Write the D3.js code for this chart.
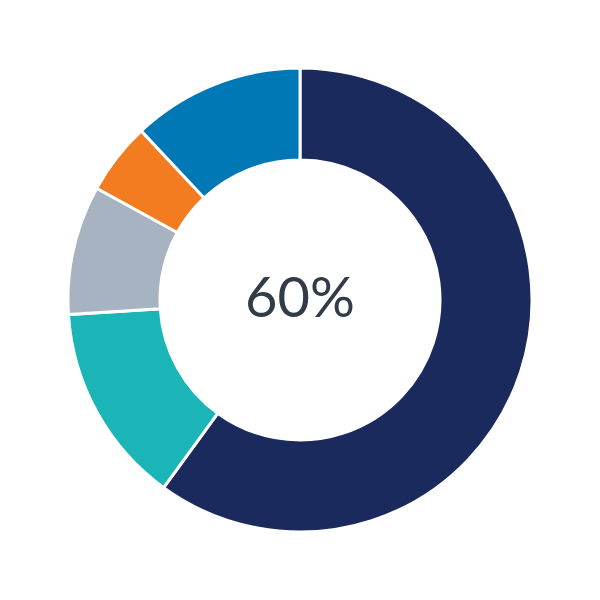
<!DOCTYPE html>
<html>
<head>
<meta charset="utf-8">
<script src="https://cdn.jsdelivr.net/npm/d3@7"></script>
<style>
  html, body { margin: 0; padding: 0; background: #fff; }
</style>
</head>
<body>
<div id="chart"></div>
<script>
'use strict';

var categories = ['A', 'B', 'C', 'D', 'E'];
var values = [60, 14, 9, 5, 12];
var colors = ['#1b2a5c', '#1bb5b7', '#a8b3c1', '#f47c20', '#0078b5'];
var centerLabel = '60%';

var width = 600,
    height = 600,
    outerRadius = 232,
    innerRadius = 140;

var svg = d3.select('#chart').append('svg')
  .attr('width', width)
  .attr('height', height);

var chart = svg.append('g')
  .attr('transform', 'translate(' + 300 + ',' + 300 + ')');

var pie = d3.pie()
  .sort(null)
  .value(function (d) { return d; });

var arc = d3.arc()
  .innerRadius(innerRadius)
  .outerRadius(outerRadius);

var color = d3.scaleOrdinal()
  .domain(categories)
  .range(colors);

chart.selectAll('path')
  .data(pie(values))
  .enter().append('path')
  .attr('d', arc)
  .attr('fill', function (d, i) { return color(categories[i]); })
  .attr('stroke', '#fff')
  .attr('stroke-width', 3);

chart.append('text')
  .attr('x', 0)
  .attr('y', 17)
  .attr('text-anchor', 'middle')
  .style('font-family', 'Lato, sans-serif')
  .style('font-size', '56px')
  .style('font-weight', 400)
  .style('fill', '#323c46')
  .text(centerLabel);
</script>
</body>
</html>
